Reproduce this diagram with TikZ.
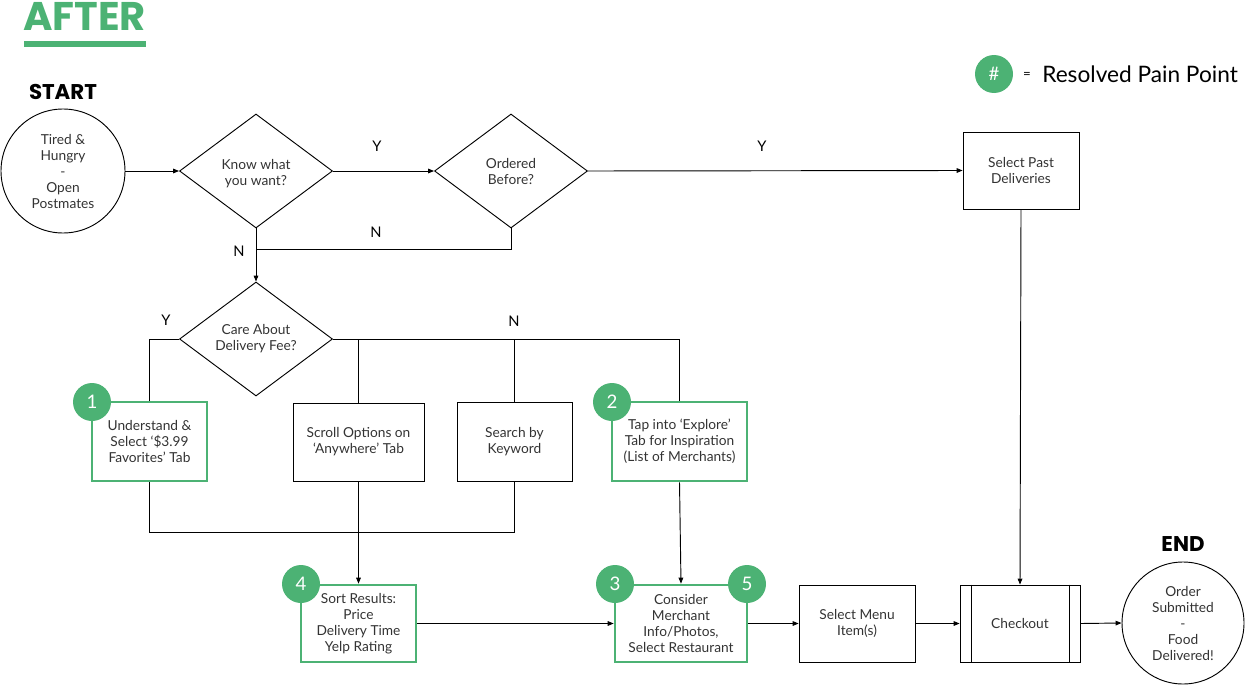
\documentclass[tikz,border=0pt]{standalone}
\usepackage{fontspec}
\setmainfont{Lato}
\newfontfamily\headfont{Poppins}
\usetikzlibrary{shapes.geometric,arrows.meta}
\definecolor{pgreen}{RGB}{76,178,116}
\definecolor{ptext}{RGB}{51,51,51}
\tikzset{
  lbl/.style={font=\fontsize{10.3}{12}\selectfont, text=ptext, align=center},
  box/.style={lbl, draw=black, line width=0.6pt, rectangle, minimum width=87pt, minimum height=58.5pt, inner sep=2pt},
  gbox/.style={box, draw=pgreen, line width=2pt},
  dia/.style={lbl, draw=black, line width=0.7pt, diamond, minimum width=114.75pt, minimum height=85.5pt, inner sep=0pt, aspect=1.34},
  term/.style={lbl, draw=black, line width=0.7pt, circle, inner sep=0pt},
  badge/.style={circle, fill=pgreen, text=white, minimum size=28.5pt, inner sep=0pt, font=\fontsize{14}{14}\selectfont},
  yn/.style={font=\fontsize{11}{11}\selectfont, text=black},
  head/.style={font=\headfont\bfseries\fontsize{16}{16}\selectfont, text=black},
  conn/.style={draw=black, line width=0.7pt},
  arr/.style={conn, -{Triangle[length=4.5pt,width=3.5pt]}}
}
\begin{document}
\begin{tikzpicture}[x=0.75pt,y=-0.75pt]
\useasboundingbox (0,0) rectangle (1245,685);
% title
\node[anchor=west, text=pgreen, font=\headfont\bfseries\fontsize{30}{30}\selectfont, inner sep=0pt] (after) at (23,16) {AFTER};
\fill[pgreen] (24,41) rectangle (146,47);
% legend
\node[badge] (leg) at (994,74) {\#};
\node[font=\fontsize{10}{10}\selectfont] (eq) at (1027,75) {=};
\node[anchor=west, font=\fontsize{17}{17}\selectfont, text=black, inner sep=0pt] (legt) at (1042,74) {Resolved Pain Point};
% headings
\node[head] (starth) at (63,92) {START};
\node[head] (endh) at (1183,544) {END};
% nodes
\node[term, minimum size=93pt] (start) at (63,171) {Tired \&\\Hungry\\-\\Open\\Postmates};
\node[dia] (d1) at (256,171) {};
\node[lbl] (d1t) at (256,174) {Know what\\you want?};
\node[dia] (d2) at (511,171) {Ordered\\Before?};
\node[box, minimum width=87pt, minimum height=57.75pt] (past) at (1021,170.5) {Select Past\\Deliveries};
\node[dia] (d3) at (256,339) {Care About\\Delivery Fee?};
\node[gbox, minimum width=86.25pt, minimum height=59.25pt] (b1) at (149.5,441.5) {Understand \&\\Select `\$3.99\\Favorites' Tab};
\node[box, minimum width=98.25pt, minimum height=58.5pt] (scroll) at (358.5,442) {Scroll Options on\\`Anywhere' Tab};
\node[box, minimum width=86.25pt, minimum height=59.25pt] (search) at (514.5,441.5) {Search by\\Keyword};
\node[gbox, minimum width=101.25pt, minimum height=59.25pt] (b2) at (679.5,441.5) {Tap into `Explore'\\Tab for Inspiration\\(List of Merchants)};
\node[gbox, minimum width=86.25pt, minimum height=57.75pt] (sort) at (358.5,623.5) {Sort Results:\\Price\\Delivery Time\\Yelp Rating};
\node[gbox, minimum width=99pt, minimum height=57.75pt] (cons) at (681,623.5) {Consider\\Merchant\\Info/Photos,\\Select Restaurant};
\node[box, minimum width=87pt, minimum height=57.75pt] (menu) at (857,623.5) {Select Menu\\Item(s)};
\node[box, minimum width=90pt, minimum height=57.75pt] (chk) at (1020,623.5) {Checkout};
\draw[conn, line width=0.6pt] ([xshift=9pt]chk.north west) -- ([xshift=9pt]chk.south west);
\draw[conn, line width=0.6pt] ([xshift=-8.25pt]chk.north east) -- ([xshift=-8.25pt]chk.south east);
\node[term, minimum size=91.5pt] (end) at (1183,623) {Order\\Submitted\\-\\Food\\Delivered!};
% badges
\node[badge] (n1) at (92,402) {1};
\node[badge] (n2) at (612,402) {2};
\node[badge] (n4) at (301,584) {4};
\node[badge] (n3) at (615,584) {3};
\node[badge] (n5) at (747,584) {5};
% coordinates
\coordinate (j1) at (256,249);
\coordinate (j2) at (514.5,532);
% connectors
\draw[arr] (start) -- (d1);
\draw[arr] (d1.east) -- (d2.west);
\draw[arr] (d2.east) -- (past.west);
\draw[conn] (d2.south) |- (j1);
\draw[arr] (d1.south) -- (d3.north);
\draw[conn] (d3.west) -| (b1.north);
\draw[conn] (d3.east) -| (b2.north);
\draw[conn] (scroll.north) -- (scroll.north |- d3.east);
\draw[conn] (search.north) -- (search.north |- d3.east);
\draw[conn] (b1.south) |- (j2) -- (search.south);
\draw[arr] (scroll.south) -- (sort.north);
\draw[arr] (sort.east) -- (cons.west);
\draw[arr] (b2.south) -- (cons.north);
\draw[arr] (cons.east) -- (menu.west);
\draw[arr] (menu.east) -- (chk.west);
\draw[arr] (past.south) -- (chk.north);
\draw[arr] (chk.east) -- (end.west);
% labels
\node[yn] (y1) at (377,146) {Y};
\node[yn] (y2) at (762,146) {Y};
\node[yn] (nn1) at (376,232) {N};
\node[yn] (nn2) at (239,251) {N};
\node[yn] (y3) at (166,320) {Y};
\node[yn] (nn3) at (514,321) {N};
\end{tikzpicture}
\end{document}
